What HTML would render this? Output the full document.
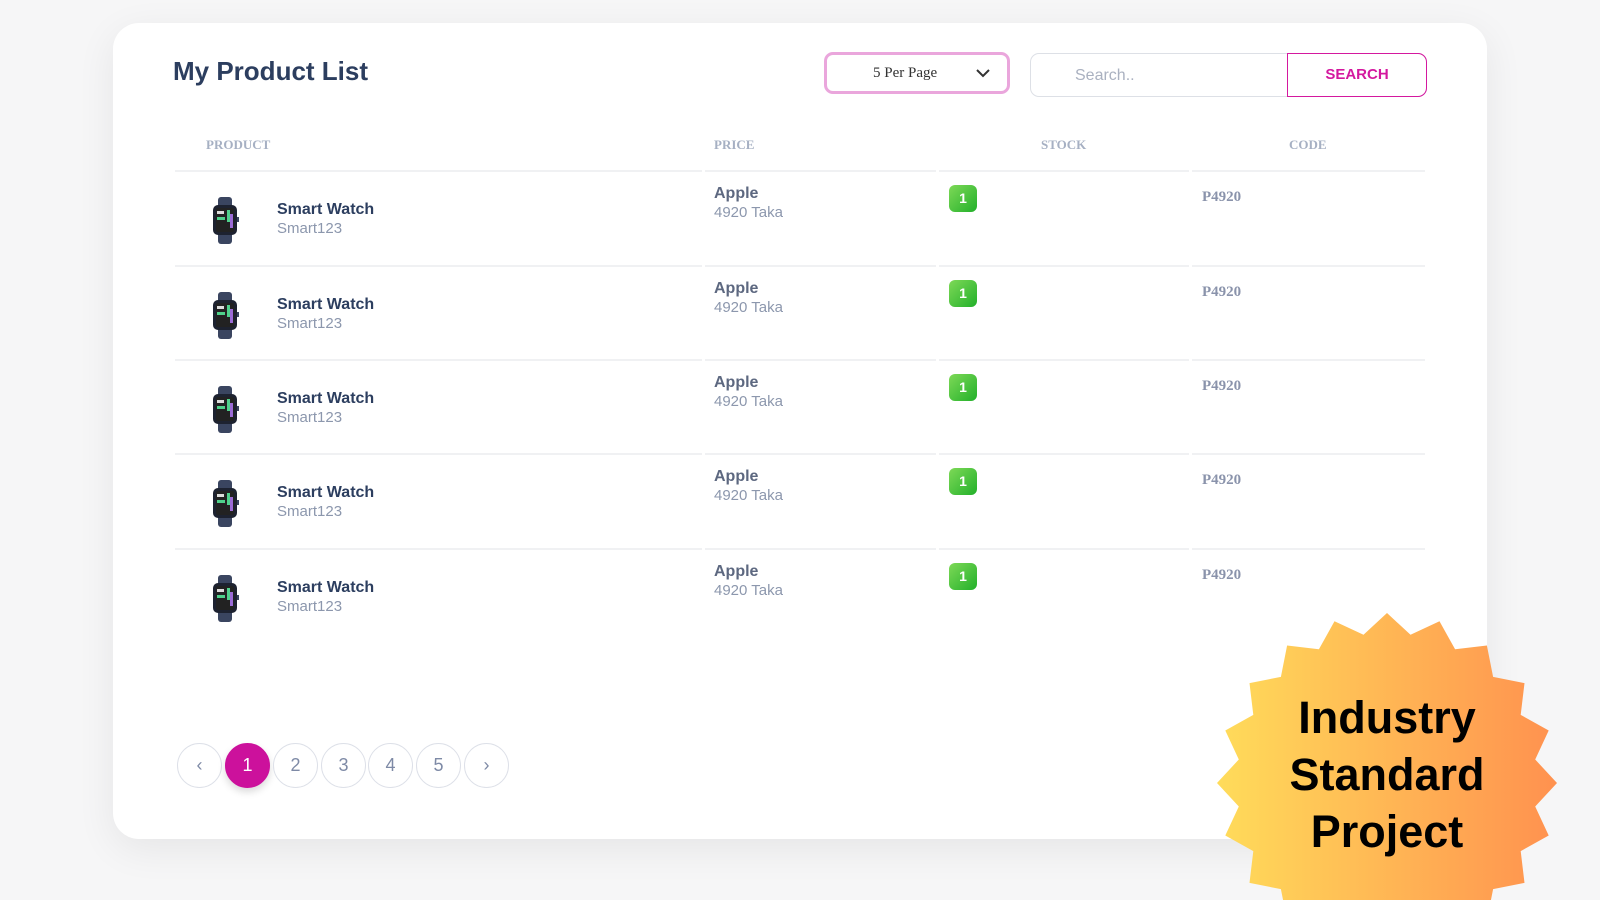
<!DOCTYPE html>
<html><head><meta charset="utf-8"><style>
*{margin:0;padding:0;box-sizing:border-box}
html{width:1600px;height:900px;overflow:hidden}
body{width:1600px;height:900px;background:#f6f6f7;position:relative;overflow:hidden;font-family:"Liberation Sans",sans-serif}
.card{position:absolute;left:113px;top:23px;width:1374px;height:816px;background:#fff;border-radius:26px;box-shadow:0 10px 40px rgba(0,0,0,0.07)}
.abs{position:absolute}
.title{left:173px;top:56px;font-size:26px;font-weight:bold;color:#2c3e5f}
.dd{left:824px;top:52px;width:186px;height:42px;border:3px solid #eaa6dc;border-radius:9px;font-family:"Liberation Serif",serif;font-size:15px;color:#333;line-height:36px;padding-left:46px}
.srch{left:1030px;top:53px;width:397px;height:44px;border:1.5px solid #dde0e6;border-radius:9px}
.btn{left:1287px;top:53px;width:140px;height:44px;border:1.5px solid #d4189f;border-radius:0 9px 9px 0;color:#d4189f;font-weight:bold;font-size:15px;text-align:center;line-height:41px}
.th{top:137px;font-family:"Liberation Serif",serif;font-weight:bold;font-size:13px;color:#a6b0c3}
.line{height:2px;background:#f0f1f3}
.name{font-size:16px;font-weight:bold;color:#2c3e5f}
.sub{font-size:15px;color:#8c97ad}
.apple{font-size:16px;font-weight:bold;color:#5d6880}
.badge{width:28px;height:27px;border-radius:6px;background:linear-gradient(135deg,#7ed957,#22b02a);color:#fff;font-weight:bold;font-size:14px;text-align:center;line-height:27px}
.code{font-family:"Liberation Serif",serif;font-weight:bold;font-size:15px;color:#8a93ab}
.pg{top:743px;width:45px;height:45px;border-radius:50%;border:1.5px solid #dde0e8;text-align:center;line-height:42px;font-size:18px;color:#7e8aa6;background:#fff}
</style></head><body>
<div class="card"></div>
<div class="abs title">My Product List</div>
<div class="abs dd">5 Per Page<svg class="abs" style="left:148px;top:13px" width="16" height="10"><path d="M2 2 L8 8 L14 2" stroke="#333" stroke-width="2" fill="none"/></svg></div>
<div class="abs srch"><span class="abs" style="left:44px;top:13px;font-size:16px;color:#aab1c0">Search..</span></div>
<div class="abs btn">SEARCH</div>
<div class="abs th" style="left:206px">PRODUCT</div>
<div class="abs th" style="left:714px">PRICE</div>
<div class="abs th" style="left:1041px">STOCK</div>
<div class="abs th" style="left:1289px">CODE</div>

<div id="rows"></div>
<script>
var tops=[170,265,359,453,548];var h='';
tops.forEach(function(t){
 h+='<div class="abs line" style="left:175px;top:'+t+'px;width:527px"></div><div class="abs line" style="left:705px;top:'+t+'px;width:231px"></div><div class="abs line" style="left:939px;top:'+t+'px;width:250px"></div><div class="abs line" style="left:1192px;top:'+t+'px;width:233px"></div>';
 h+='<svg class="abs" style="left:211px;top:'+(t+27)+'px" width="30" height="47"><rect x="7" y="0" width="14" height="47" rx="3" fill="#3a4560"/><rect x="2" y="8" width="24" height="30" rx="5" fill="#1d2230"/><rect x="5" y="11" width="18" height="24" rx="2" fill="#222"/><rect x="16" y="13" width="3" height="12" fill="#4fd18b"/><rect x="19" y="17" width="3" height="14" fill="#9b6bd6"/><rect x="6" y="14" width="7" height="3" fill="#ddd"/><rect x="6" y="20" width="8" height="3" fill="#4fd18b"/><rect x="26" y="20" width="2" height="5" fill="#3a4560"/></svg>';
 h+='<div class="abs name" style="left:277px;top:'+(t+31)+'px">Smart Watch</div><div class="abs sub" style="left:277px;top:'+(t+50)+'px">Smart123</div>';
 h+='<div class="abs apple" style="left:714px;top:'+(t+15)+'px">Apple</div><div class="abs sub" style="left:714px;top:'+(t+34)+'px">4920 Taka</div>';
 h+='<div class="abs badge" style="left:949px;top:'+(t+15)+'px">1</div>';
 h+='<div class="abs code" style="left:1202px;top:'+(t+19)+'px">P4920</div>';
});
document.getElementById('rows').innerHTML=h;
</script>

<div class="abs pg" style="left:177px">&#8249;</div>
<div class="abs pg" style="left:225px;background:#cc119c;border-color:#cc119c;color:#fff;box-shadow:0 4px 8px rgba(0,0,0,0.15)">1</div>
<div class="abs pg" style="left:273px">2</div>
<div class="abs pg" style="left:321px">3</div>
<div class="abs pg" style="left:368px">4</div>
<div class="abs pg" style="left:416px">5</div>
<div class="abs pg" style="left:464px">&#8250;</div>

<svg class="abs" style="left:1212px;top:610px" width="350" height="290">
<defs><linearGradient id="g" x1="0" x2="1"><stop offset="0" stop-color="#ffdc5a"/><stop offset="1" stop-color="#ff914f"/></linearGradient></defs>
<polygon id="star" fill="url(#g)"/>
<text x="175" y="123" text-anchor="middle" font-family="Liberation Sans" font-weight="bold" font-size="45" fill="#000">Industry</text>
<text x="175" y="180" text-anchor="middle" font-family="Liberation Sans" font-weight="bold" font-size="45" fill="#000">Standard</text>
<text x="175" y="237" text-anchor="middle" font-family="Liberation Sans" font-weight="bold" font-size="45" fill="#000">Project</text>
</svg>
<script>
var p=[],n=20,cx=175,cy=173;
for(var i=0;i<2*n;i++){var r=i%2?150:170;var a=-Math.PI/2+i*Math.PI/n;p.push((cx+r*Math.cos(a)).toFixed(1)+','+(cy+r*Math.sin(a)).toFixed(1));}
document.getElementById('star').setAttribute('points',p.join(' '));
</script>
</body></html>
